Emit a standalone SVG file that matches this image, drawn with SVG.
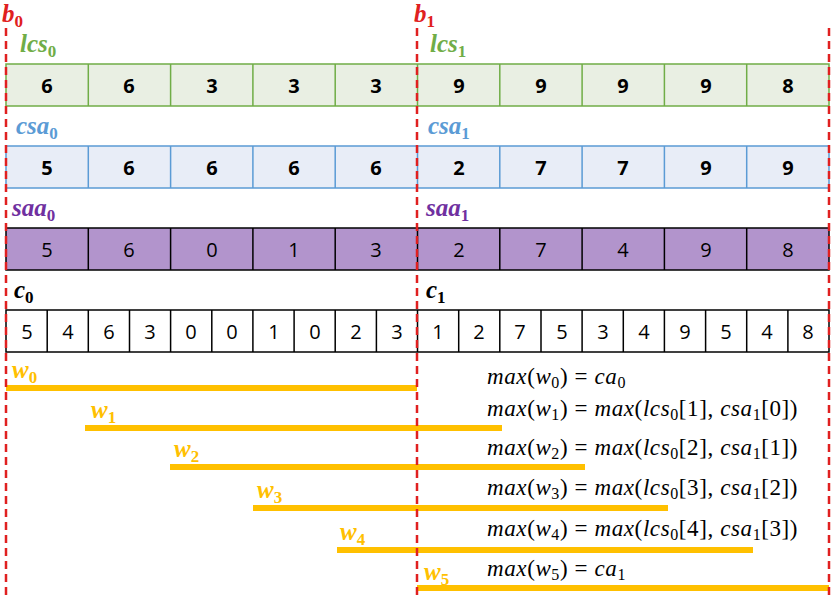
<svg xmlns="http://www.w3.org/2000/svg" width="833" height="598" viewBox="0 0 833 598">
<style>
.n{font-family:"Open Sans","Liberation Sans",sans-serif;font-size:20px;text-anchor:middle;fill:#000}
.b{font-weight:bold}
.lab{font-family:"Liberation Serif",serif;font-style:italic;font-weight:bold;font-size:25px}
.s{font-size:17px;font-style:normal}
.f{font-family:"Liberation Serif",serif;font-style:italic;font-size:23px;fill:#000;letter-spacing:0.6px}
.up{font-style:normal}
.fs{font-size:16px;font-style:normal}
.red{stroke:#e02020;stroke-width:2.5;stroke-dasharray:8,5;fill:none}
.bar{stroke:#ffc000;stroke-width:6}
</style>
<g id="labels">
<text class="lab" x="2" y="22" fill="#e02020">b<tspan class="s" dy="5">0</tspan></text>
<text class="lab" x="414" y="22" fill="#e02020">b<tspan class="s" dy="5">1</tspan></text>
<text class="lab" x="20" y="52" fill="#70ad47">lcs<tspan class="s" dy="5">0</tspan></text>
<text class="lab" x="430" y="52" fill="#70ad47">lcs<tspan class="s" dy="5">1</tspan></text>
<text class="lab" x="16" y="134" fill="#5b9bd5">csa<tspan class="s" dy="5">0</tspan></text>
<text class="lab" x="428" y="134" fill="#5b9bd5">csa<tspan class="s" dy="5">1</tspan></text>
<text class="lab" x="12" y="216" fill="#7030a0">saa<tspan class="s" dy="5">0</tspan></text>
<text class="lab" x="426" y="216" fill="#7030a0">saa<tspan class="s" dy="5">1</tspan></text>
<text class="lab" x="14" y="298" fill="#000">c<tspan class="s" dy="5">0</tspan></text>
<text class="lab" x="426" y="298" fill="#000">c<tspan class="s" dy="5">1</tspan></text>
</g>
<g id="lcs" fill="#e9efe3" stroke="#70ad47" stroke-width="1.5">
<rect x="6" y="64" width="823" height="42"/>
<path d="M88.3 64v42M170.6 64v42M252.9 64v42M335.2 64v42M417.5 64v42M499.8 64v42M582.1 64v42M664.4 64v42M746.7 64v42"/>
</g>
<g id="lcsv" class="n b">
<text x="47" y="93">6</text><text x="129" y="93">6</text><text x="212" y="93">3</text><text x="294" y="93">3</text><text x="376" y="93">3</text>
<text x="459" y="93">9</text><text x="541" y="93">9</text><text x="623" y="93">9</text><text x="706" y="93">9</text><text x="788" y="93">8</text>
</g>
<g id="csa" fill="#e8edf7" stroke="#5b9bd5" stroke-width="1.5">
<rect x="6" y="146" width="823" height="42"/>
<path d="M88.3 146v42M170.6 146v42M252.9 146v42M335.2 146v42M417.5 146v42M499.8 146v42M582.1 146v42M664.4 146v42M746.7 146v42"/>
</g>
<g id="csav" class="n b">
<text x="47" y="175">5</text><text x="129" y="175">6</text><text x="212" y="175">6</text><text x="294" y="175">6</text><text x="376" y="175">6</text>
<text x="459" y="175">2</text><text x="541" y="175">7</text><text x="623" y="175">7</text><text x="706" y="175">9</text><text x="788" y="175">9</text>
</g>
<g id="saa" fill="#b294cc" stroke="#000" stroke-width="1.5">
<rect x="6" y="228" width="823" height="42"/>
<path d="M88.3 228v42M170.6 228v42M252.9 228v42M335.2 228v42M417.5 228v42M499.8 228v42M582.1 228v42M664.4 228v42M746.7 228v42"/>
</g>
<g id="saav" class="n">
<text x="47" y="257">5</text><text x="129" y="257">6</text><text x="212" y="257">0</text><text x="294" y="257">1</text><text x="376" y="257">3</text>
<text x="459" y="257">2</text><text x="541" y="257">7</text><text x="623" y="257">4</text><text x="706" y="257">9</text><text x="788" y="257">8</text>
</g>
<g id="c" fill="#fff" stroke="#000" stroke-width="1.5">
<rect x="6" y="310" width="823" height="42"/>
<path d="M47.2 310v42M88.3 310v42M129.5 310v42M170.6 310v42M211.8 310v42M252.9 310v42M294.1 310v42M335.2 310v42M376.4 310v42M417.5 310v42M458.7 310v42M499.8 310v42M541 310v42M582.1 310v42M623.3 310v42M664.4 310v42M705.6 310v42M746.7 310v42M787.9 310v42"/>
</g>
<g id="cv" class="n">
<text x="27" y="339">5</text><text x="68" y="339">4</text><text x="109" y="339">6</text><text x="150" y="339">3</text><text x="191" y="339">0</text><text x="232" y="339">0</text><text x="274" y="339">1</text><text x="315" y="339">0</text><text x="356" y="339">2</text><text x="397" y="339">3</text>
<text x="438" y="339">1</text><text x="479" y="339">2</text><text x="520" y="339">7</text><text x="562" y="339">5</text><text x="603" y="339">3</text><text x="644" y="339">4</text><text x="685" y="339">9</text><text x="726" y="339">5</text><text x="767" y="339">4</text><text x="808" y="339">8</text>
</g>
<g id="bars">
<line class="bar" x1="6" y1="388" x2="417" y2="388"/>
<line class="bar" x1="85" y1="428" x2="502" y2="428"/>
<line class="bar" x1="170" y1="467" x2="585" y2="467"/>
<line class="bar" x1="253" y1="508" x2="668" y2="508"/>
<line class="bar" x1="337" y1="550" x2="753" y2="550"/>
<line class="bar" x1="417" y1="588" x2="829" y2="588"/>
</g>
<g id="wlabels" class="lab" fill="#ffc000">
<text x="12" y="378">w<tspan class="s" dy="5">0</tspan></text>
<text x="91" y="418">w<tspan class="s" dy="5">1</tspan></text>
<text x="174" y="457">w<tspan class="s" dy="5">2</tspan></text>
<text x="257" y="498">w<tspan class="s" dy="5">3</tspan></text>
<text x="340" y="540">w<tspan class="s" dy="5">4</tspan></text>
<text x="424" y="580">w<tspan class="s" dy="5">5</tspan></text>
</g>
<g id="formulas" class="f">
<text x="487" y="384">max<tspan class="up">(</tspan>w<tspan class="fs" dy="4">0</tspan><tspan dy="-4" class="up">) = </tspan>ca<tspan class="fs" dy="4">0</tspan></text>
<text x="487" y="416">max<tspan class="up">(</tspan>w<tspan class="fs" dy="4">1</tspan><tspan dy="-4" class="up">) = </tspan>max<tspan class="up">(</tspan>lcs<tspan class="fs" dy="4">0</tspan><tspan dy="-4" class="up">[1], </tspan>csa<tspan class="fs" dy="4">1</tspan><tspan dy="-4" class="up">[0])</tspan></text>
<text x="487" y="455">max<tspan class="up">(</tspan>w<tspan class="fs" dy="4">2</tspan><tspan dy="-4" class="up">) = </tspan>max<tspan class="up">(</tspan>lcs<tspan class="fs" dy="4">0</tspan><tspan dy="-4" class="up">[2], </tspan>csa<tspan class="fs" dy="4">1</tspan><tspan dy="-4" class="up">[1])</tspan></text>
<text x="487" y="495">max<tspan class="up">(</tspan>w<tspan class="fs" dy="4">3</tspan><tspan dy="-4" class="up">) = </tspan>max<tspan class="up">(</tspan>lcs<tspan class="fs" dy="4">0</tspan><tspan dy="-4" class="up">[3], </tspan>csa<tspan class="fs" dy="4">1</tspan><tspan dy="-4" class="up">[2])</tspan></text>
<text x="487" y="536">max<tspan class="up">(</tspan>w<tspan class="fs" dy="4">4</tspan><tspan dy="-4" class="up">) = </tspan>max<tspan class="up">(</tspan>lcs<tspan class="fs" dy="4">0</tspan><tspan dy="-4" class="up">[4], </tspan>csa<tspan class="fs" dy="4">1</tspan><tspan dy="-4" class="up">[3])</tspan></text>
<text x="487" y="576">max<tspan class="up">(</tspan>w<tspan class="fs" dy="4">5</tspan><tspan dy="-4" class="up">) = </tspan>ca<tspan class="fs" dy="4">1</tspan></text>
</g>
<g id="dividers">
<line class="red" x1="6" y1="28" x2="6" y2="598"/>
<line class="red" x1="417" y1="28" x2="417" y2="598"/>
<line class="red" x1="829" y1="28" x2="829" y2="598"/>
</g>
</svg>
